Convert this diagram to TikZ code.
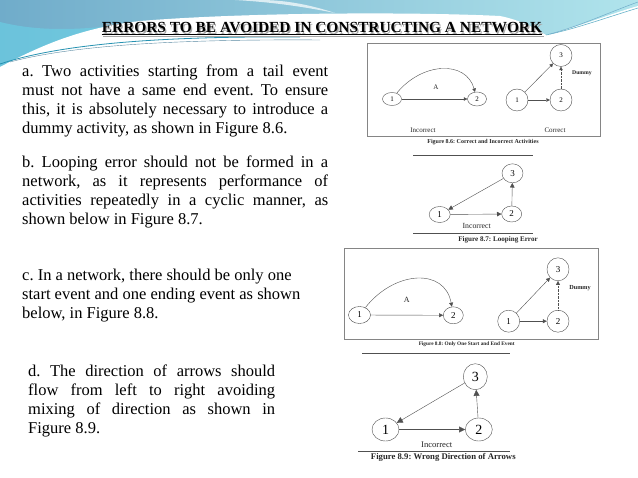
\documentclass[tikz,border=0pt]{standalone}
\usepackage{fontspec}
\setmainfont{Liberation Serif}
\usetikzlibrary{arrows.meta, positioning, shapes.geometric}
\definecolor{hBlue}{RGB}{112,172,202}
\definecolor{hCyan}{RGB}{176,228,236}
\definecolor{hAqua}{RGB}{104,214,234}
\definecolor{hTeal}{RGB}{38,146,178}
\definecolor{fGray}{RGB}{80,80,80}
\newcommand{\fsz}[1]{\fontsize{#1}{#1}\selectfont}
\frenchspacing

\begin{document}
\begin{tikzpicture}[
  x=1pt, y=-1pt,
  ev/.style 2 args={draw=fGray, ellipse, inner sep=0pt, minimum width=#1, minimum height=#2},
  arr/.style={-{Triangle[length=#1, width=#1]}, draw=fGray},
  arr/.default=3.5pt,
  note/.style={inner sep=0pt, text=black!85},
  para/.style={anchor=north west, inner sep=0pt, align=justify, font=\fontsize{16.5}{19}\selectfont},
  headfont/.style={inner sep=0pt, anchor=base, font=\bfseries\fontsize{15.4}{18}\selectfont}
]
  \useasboundingbox (0,0) rectangle (638,478);
  \fill[white] (0,0) rectangle (638,478);
  \shade[left color=hBlue, right color=hCyan] (0,0) rectangle (638,75);
  \fill[hAqua, opacity=.55] (0,22) .. controls (40,32) and (80,30) .. (130,24) -- (130,75) -- (0,75) -- cycle;
  \fill[white, opacity=.7] (235,0) .. controls (270,2) and (300,6) .. (335,13) .. controls (305,3) and (280,0) .. (260,0) -- cycle;
  \fill[white] (0,67) .. controls (40,46) and (80,28) .. (140,21) .. controls (250,12) and (420,12) .. (500,16)
    .. controls (520,20) and (535,28) .. (546,35) .. controls (575,28) and (610,14) .. (638,6) -- (638,76) -- (0,76) -- cycle;
  \draw[hTeal, line width=.8pt] (0,64) .. controls (60,44) and (160,36) .. (300,37);
  \draw[hBlue!80!black, line width=.4pt] (10,62) .. controls (70,46) and (170,39) .. (320,40);
  \draw[hTeal!70, line width=.6pt] (546,35) .. controls (575,29) and (605,18) .. (638,8);
  \draw[hBlue, line width=.5pt] (550,34) .. controls (580,26) and (610,12) .. (638,2);

  \node[headfont, text=black!35] (tshadow) at (323.2,34.2) {ERRORS TO BE AVOIDED IN CONSTRUCTING A NETWORK};
  \node[headfont] (title) at (322,33) {ERRORS TO BE AVOIDED IN CONSTRUCTING A NETWORK};
  \draw[black!35, line width=1pt] ([yshift=-2pt]tshadow.base west) -- ([yshift=-2pt]tshadow.base east);
  \draw[line width=1pt] ([yshift=-2pt]title.base west) -- ([yshift=-2pt]title.base east);

  \node[para, text width=306pt] (pa) at (22,64.7) {a. Two activities starting from a tail event\linebreak must not have a same end event. To ensure\linebreak this, it is absolutely necessary to introduce a\linebreak dummy activity, as shown in Figure 8.6.};
  \node[para, text width=306pt] (pb) at (22,156) {b. Looping error should not be formed in a\linebreak network, as it represents performance of\linebreak activities repeatedly in a cyclic manner, as\linebreak shown below in Figure 8.7.};
  \node[para, align=left] (pc) at (22,268.7) {c. In a network, there should be only one\\start event and one ending event as shown\\below, in Figure 8.8.};
  \node[para, text width=247pt] (pd) at (28,364.4) {d. The direction of arrows should\linebreak flow from left to right avoiding\linebreak mixing of direction as shown in\linebreak Figure 8.9.};

  \draw[fGray!70] (367,43) rectangle (600,136);
  \node[ev={19pt}{13pt}, font=\fsz{7}] (a1) at (392,99) {1};
  \node[ev={19pt}{14pt}, font=\fsz{7}] (a2) at (477,99) {2};
  \node[ev={22pt}{22pt}, font=\fsz{7}] (b1) at (517,100) {1};
  \node[ev={22pt}{22pt}, font=\fsz{7}] (b2) at (561,100) {2};
  \node[ev={22pt}{22pt}, font=\fsz{7}] (b3) at (561,55.5) {3};
  \node[note, font=\fsz{7}] (la) at (436,87) {A};
  \node[note, font=\bfseries\fsz{5.7}] (dummya) at (582,73) {Dummy};
  \node[note, font=\fsz{7}] (inca) at (423,130) {Incorrect};
  \node[note, font=\fsz{7}] (cora) at (555,130) {Correct};
  \node[note, font=\bfseries\fsz{6}] (capa) at (483,142.5) {Figure 8.6: Correct and Incorrect Activities};
  \draw[arr] (a1) -- (a2);
  \draw[arr] (a1) .. controls (422,62) and (466,60) .. (a2);
  \draw[arr] (b1) -- (b2);
  \draw[arr] (b1) -- (b3);
  \draw[arr, densely dotted] (b2) -- (b3);

  \draw[fGray] (413,155) -- (533,155);
  \draw[fGray] (413,233) -- (533,233);
  \node[ev={21pt}{16pt}, font=\fsz{9}] (c1) at (439.7,214.5) {1};
  \node[ev={20pt}{16pt}, font=\fsz{9}] (c2) at (511.7,214) {2};
  \node[ev={21pt}{19pt}, font=\fsz{9}] (c3) at (512.5,173.3) {3};
  \node[note, font=\fsz{7.8}] (incb) at (476.7,226) {Incorrect};
  \node[note, font=\bfseries\fsz{7.1}] (capb) at (498,239.5) {Figure 8.7: Looping Error};
  \draw[arr=4.5pt] (c1) -- (c2);
  \draw[arr=4.5pt] (c2) -- (c3);
  \draw[arr=4.5pt] (c3) -- (c1);

  \draw[fGray!70] (344,248) rectangle (598,339);
  \node[ev={22pt}{17pt}, font=\fsz{9}] (d1) at (359.5,315) {1};
  \node[ev={20pt}{17pt}, font=\fsz{9}] (d2) at (453.3,315.3) {2};
  \node[ev={22pt}{22pt}, font=\fsz{9}] (e1) at (508.7,321.2) {1};
  \node[ev={22pt}{22pt}, font=\fsz{9}] (e2) at (558,321.2) {2};
  \node[ev={22pt}{23pt}, font=\fsz{9}] (e3) at (558,269.3) {3};
  \node[note, font=\fsz{8}] (lb) at (406.7,300) {A};
  \node[note, font=\bfseries\fsz{6.2}] (dummyb) at (580,288) {Dummy};
  \node[note, font=\bfseries\fsz{5.3}] (capc) at (466.7,344) {Figure 8.8: Only One Start and End Event};
  \draw[arr=4pt] (d1) -- (d2);
  \draw[arr=4pt] (d1) .. controls (395,270) and (445,268) .. (d2);
  \draw[arr=4pt] (e1) -- (e2);
  \draw[arr=4pt] (e1) -- (e3);
  \draw[arr=4pt, densely dotted] (e2) -- (e3);

  \draw[fGray] (362,353.5) -- (510,353.5);
  \draw[fGray] (358,451.7) -- (510,451.7);
  \node[ev={27pt}{23pt}, font=\fsz{14}] (f1) at (385.5,429.5) {1};
  \node[ev={27pt}{23pt}, font=\fsz{14}] (f2) at (478.8,429.5) {2};
  \node[ev={24pt}{26pt}, font=\fsz{14}] (f3) at (475.3,376.7) {3};
  \node[note, font=\fsz{8.6}] (incd) at (436.7,445) {Incorrect};
  \node[note, font=\bfseries\fsz{8.7}] (capd) at (443.3,457.5) {Figure 8.9: Wrong Direction of Arrows};
  \draw[arr=6pt] (f1) -- (f2);
  \draw[arr=6pt] (f2) -- (f3);
  \draw[arr=6pt] (f3) -- (f1);
\end{tikzpicture}
\end{document}
